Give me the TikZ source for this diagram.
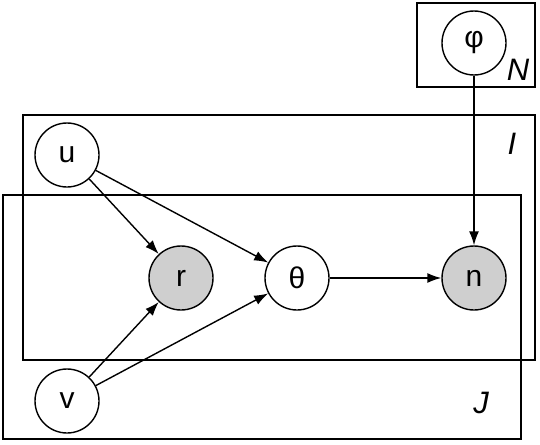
\documentclass[tikz,border=0pt]{standalone}
\usepackage{fontspec}
\setmainfont{Liberation Sans}
\usetikzlibrary{arrows.meta}

\begin{document}
\begin{tikzpicture}[x=1pt, y=-1pt, line width=1.4pt,
	var/.style={circle, draw, minimum size=64pt, inner sep=0pt, font=\fontsize{30}{34}\selectfont},
	obs/.style={var, fill=black!19},
	edge/.style={-{Latex[length=14pt,width=10pt]}},
	platelabel/.style={font=\fontsize{31}{34}\selectfont\itshape}]
		%%%%% START %%%%%
		\useasboundingbox (0, 0) rectangle (540, 444);
		
		\draw (417, 3) rectangle (535, 87);
		\draw (23, 115) rectangle (535, 360);
		\draw (3, 195) rectangle (521, 439);
		
		\node[platelabel] (labN) at (518, 70) {N};
		\node[platelabel] (labI) at (512, 144) {I};
		\node[platelabel] (labJ) at (481, 403) {J};
		
		\node[var] (phi) at (474, 43) {φ};
		\node[var] (u) at (67, 155) {u};
		\node[var] (v) at (67, 401) {v};
		\node[obs] (r) at (181, 278) {r};
		\node[var] (theta) at (297, 278) {θ};
		\node[obs] (n) at (474, 278) {n};
		
		\draw[edge] (u) -- (r);
		\draw[edge] (u) -- (theta);
		\draw[edge] (v) -- (r);
		\draw[edge] (v) -- (theta);
		\draw[edge] (theta) -- (n);
		\draw[edge] (phi) -- (n);
		%%%%% END %%%%%
\end{tikzpicture}
\end{document}
